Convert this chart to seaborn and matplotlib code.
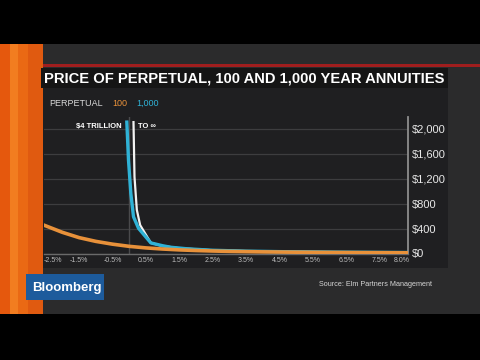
import matplotlib
matplotlib.use("Agg")
import matplotlib.pyplot as plt
import matplotlib.patches as mpatches
import matplotlib.transforms as mtransforms
import seaborn as sns

# interest rate (%) vs price of the annuity ($)
rate_100 = [-2.55, -2.0, -1.5, -1.0, -0.5, 0.0, 0.5, 1.0, 1.5, 2.0, 2.5, 3.0, 4.0, 5.0, 6.0, 7.0, 8.35]
price_100 = [455, 340, 255, 195, 150, 115, 90, 72, 58, 48, 40, 34, 26, 21, 17, 14, 11]

rate_1000 = [-0.07, -0.02, 0.05, 0.13, 0.28, 0.65, 1.0, 1.25, 1.75, 2.5, 3.5, 4.5, 5.5, 6.5, 7.5, 8.35]
price_1000 = [2110, 1500, 965, 590, 405, 170, 125, 100, 75, 52, 38, 30, 25, 21, 18, 16]

rate_perp = [0.13, 0.16, 0.23, 0.33, 0.65, 1.0, 1.5, 2.5, 3.5, 4.5, 5.5, 6.5, 7.5, 8.35]
price_perp = [2110, 1230, 700, 455, 170, 120, 85, 52, 38, 30, 25, 21, 18, 16]

x_ticks = [-2.5, -1.5, -0.5, 0.5, 1.5, 2.5, 3.5, 4.5, 5.5, 6.5, 7.5, 8.0]
x_labels = ['-2.5%', '-1.5%', '-0.5%', '0.5%', '1.5%', '2.5%', '3.5%', '4.5%',
            '5.5%', '6.5%', '7.5%', '8.0%']
y_ticks = [0, 400, 800, 1200, 1600, 2000]
y_labels = [r'\$0', r'\$400', r'\$800', r'\$1,200', r'\$1,600', r'\$2,000']

title = 'PRICE OF PERPETUAL, 100 AND 1,000 YEAR ANNUITIES'
source = 'Source: Elm Partners Management'

ORANGE = '#e8913a'
CYAN = '#2fb2d6'
WHITE = '#f2f2f2'

plt.rcParams['font.family'] = ['Liberation Sans', 'DejaVu Sans']

W, H = 480, 360
fig = plt.figure(figsize=(4.8, 3.6), dpi=100)
fig.patch.set_facecolor('black')


def rect(x0, y0, x1, y1, color, z=-10):
    # rectangle given in pixels, origin top-left
    fig.add_artist(mpatches.Rectangle((x0 / W, 1 - y1 / H), (x1 - x0) / W, (y1 - y0) / H,
                                      transform=fig.transFigure, color=color, lw=0, zorder=z))


def ftext(x, y, s, **kw):
    return fig.text(x / W, 1 - y / H, s, **kw)


# studio background
rect(0, 44, 480, 314, '#2b2b2c')
rect(0, 44, 10, 314, '#e5580d')
rect(10, 44, 18, 314, '#f27d20')
rect(18, 44, 28, 314, '#ea6914')
rect(28, 44, 43, 314, '#e05a10')
rect(43, 64, 480, 66.5, '#a01e1e')
rect(41, 68, 448, 88, '#151515')
rect(43, 88, 448, 268, '#1f1f21')
rect(26, 274, 104, 300, '#1d5b9c')

ftext(44, 78.5, title, fontsize=10.6, fontweight='bold', color='white', va='center')
ftext(49, 103.5, 'PERPETUAL', fontsize=6.5, color='#d9d9d9', va='center')
ftext(112, 103.5, '100', fontsize=6.5, color=ORANGE, va='center')
ftext(136, 103.5, '1,000', fontsize=6.5, color=CYAN, va='center')
ftext(32, 291.5, 'Bloomberg', fontsize=9.5, fontweight='bold', color='white', va='baseline')
ftext(319, 285, source, fontsize=5.2, color='#d5d5d5', va='center')

# chart
ax = fig.add_axes([44 / W, 1 - 253.5 / H, (408 - 44) / W, (253.5 - 116.5) / H])
ax.set_facecolor('none')
ax.set_xlim(-2.55, 8.35)
ax.set_ylim(0, 2200)

ax.axvline(0, color='#4a4a4c', lw=1, zorder=1)
sns.lineplot(x=rate_perp, y=price_perp, ax=ax, color=WHITE, linewidth=1.6, zorder=3)
sns.lineplot(x=rate_1000, y=price_1000, ax=ax, color=CYAN, linewidth=2.4, zorder=4)
sns.lineplot(x=rate_100, y=price_100, ax=ax, color=ORANGE, linewidth=2.6, zorder=5)

ax.text(-0.24, 2047, r'\$4 TRILLION', ha='right', va='center', color='white',
        fontsize=5.5, fontweight='bold')
ax.text(0.27, 2047, 'TO \u221e', ha='left', va='center', color='white',
        fontsize=5.5, fontweight='bold')

ax.set_yticks(y_ticks)
ax.set_yticklabels(y_labels)
ax.set_xticks(x_ticks)
ax.set_xticklabels(x_labels)
ax.yaxis.tick_right()
ax.yaxis.grid(True, color='#3d3d3f', lw=0.9)
ax.xaxis.grid(False)
ax.set_axisbelow(True)
ax.tick_params(axis='y', length=0, pad=3, labelsize=8, labelcolor='#e8e8e8')
ax.tick_params(axis='x', length=0, pad=2.5, labelsize=5, labelcolor='#bdbdbd')
# end labels sit flush with the plot edges
first = ax.get_xticklabels()[0]
first.set_transform(first.get_transform() + mtransforms.ScaledTranslation(7 / 100, 0, fig.dpi_scale_trans))
last = ax.get_xticklabels()[-1]
last.set_transform(last.get_transform() + mtransforms.ScaledTranslation(5 / 100, 0, fig.dpi_scale_trans))

for side in ['left', 'top']:
    ax.spines[side].set_visible(False)
ax.spines['right'].set_color('#8d8d8d')
ax.spines['right'].set_linewidth(1.3)
ax.spines['bottom'].set_color('#6a6a6a')
ax.spines['bottom'].set_linewidth(1)
ax.set_xlabel('')
ax.set_ylabel('')

fig.savefig('out.png', dpi=100, facecolor=fig.get_facecolor())
